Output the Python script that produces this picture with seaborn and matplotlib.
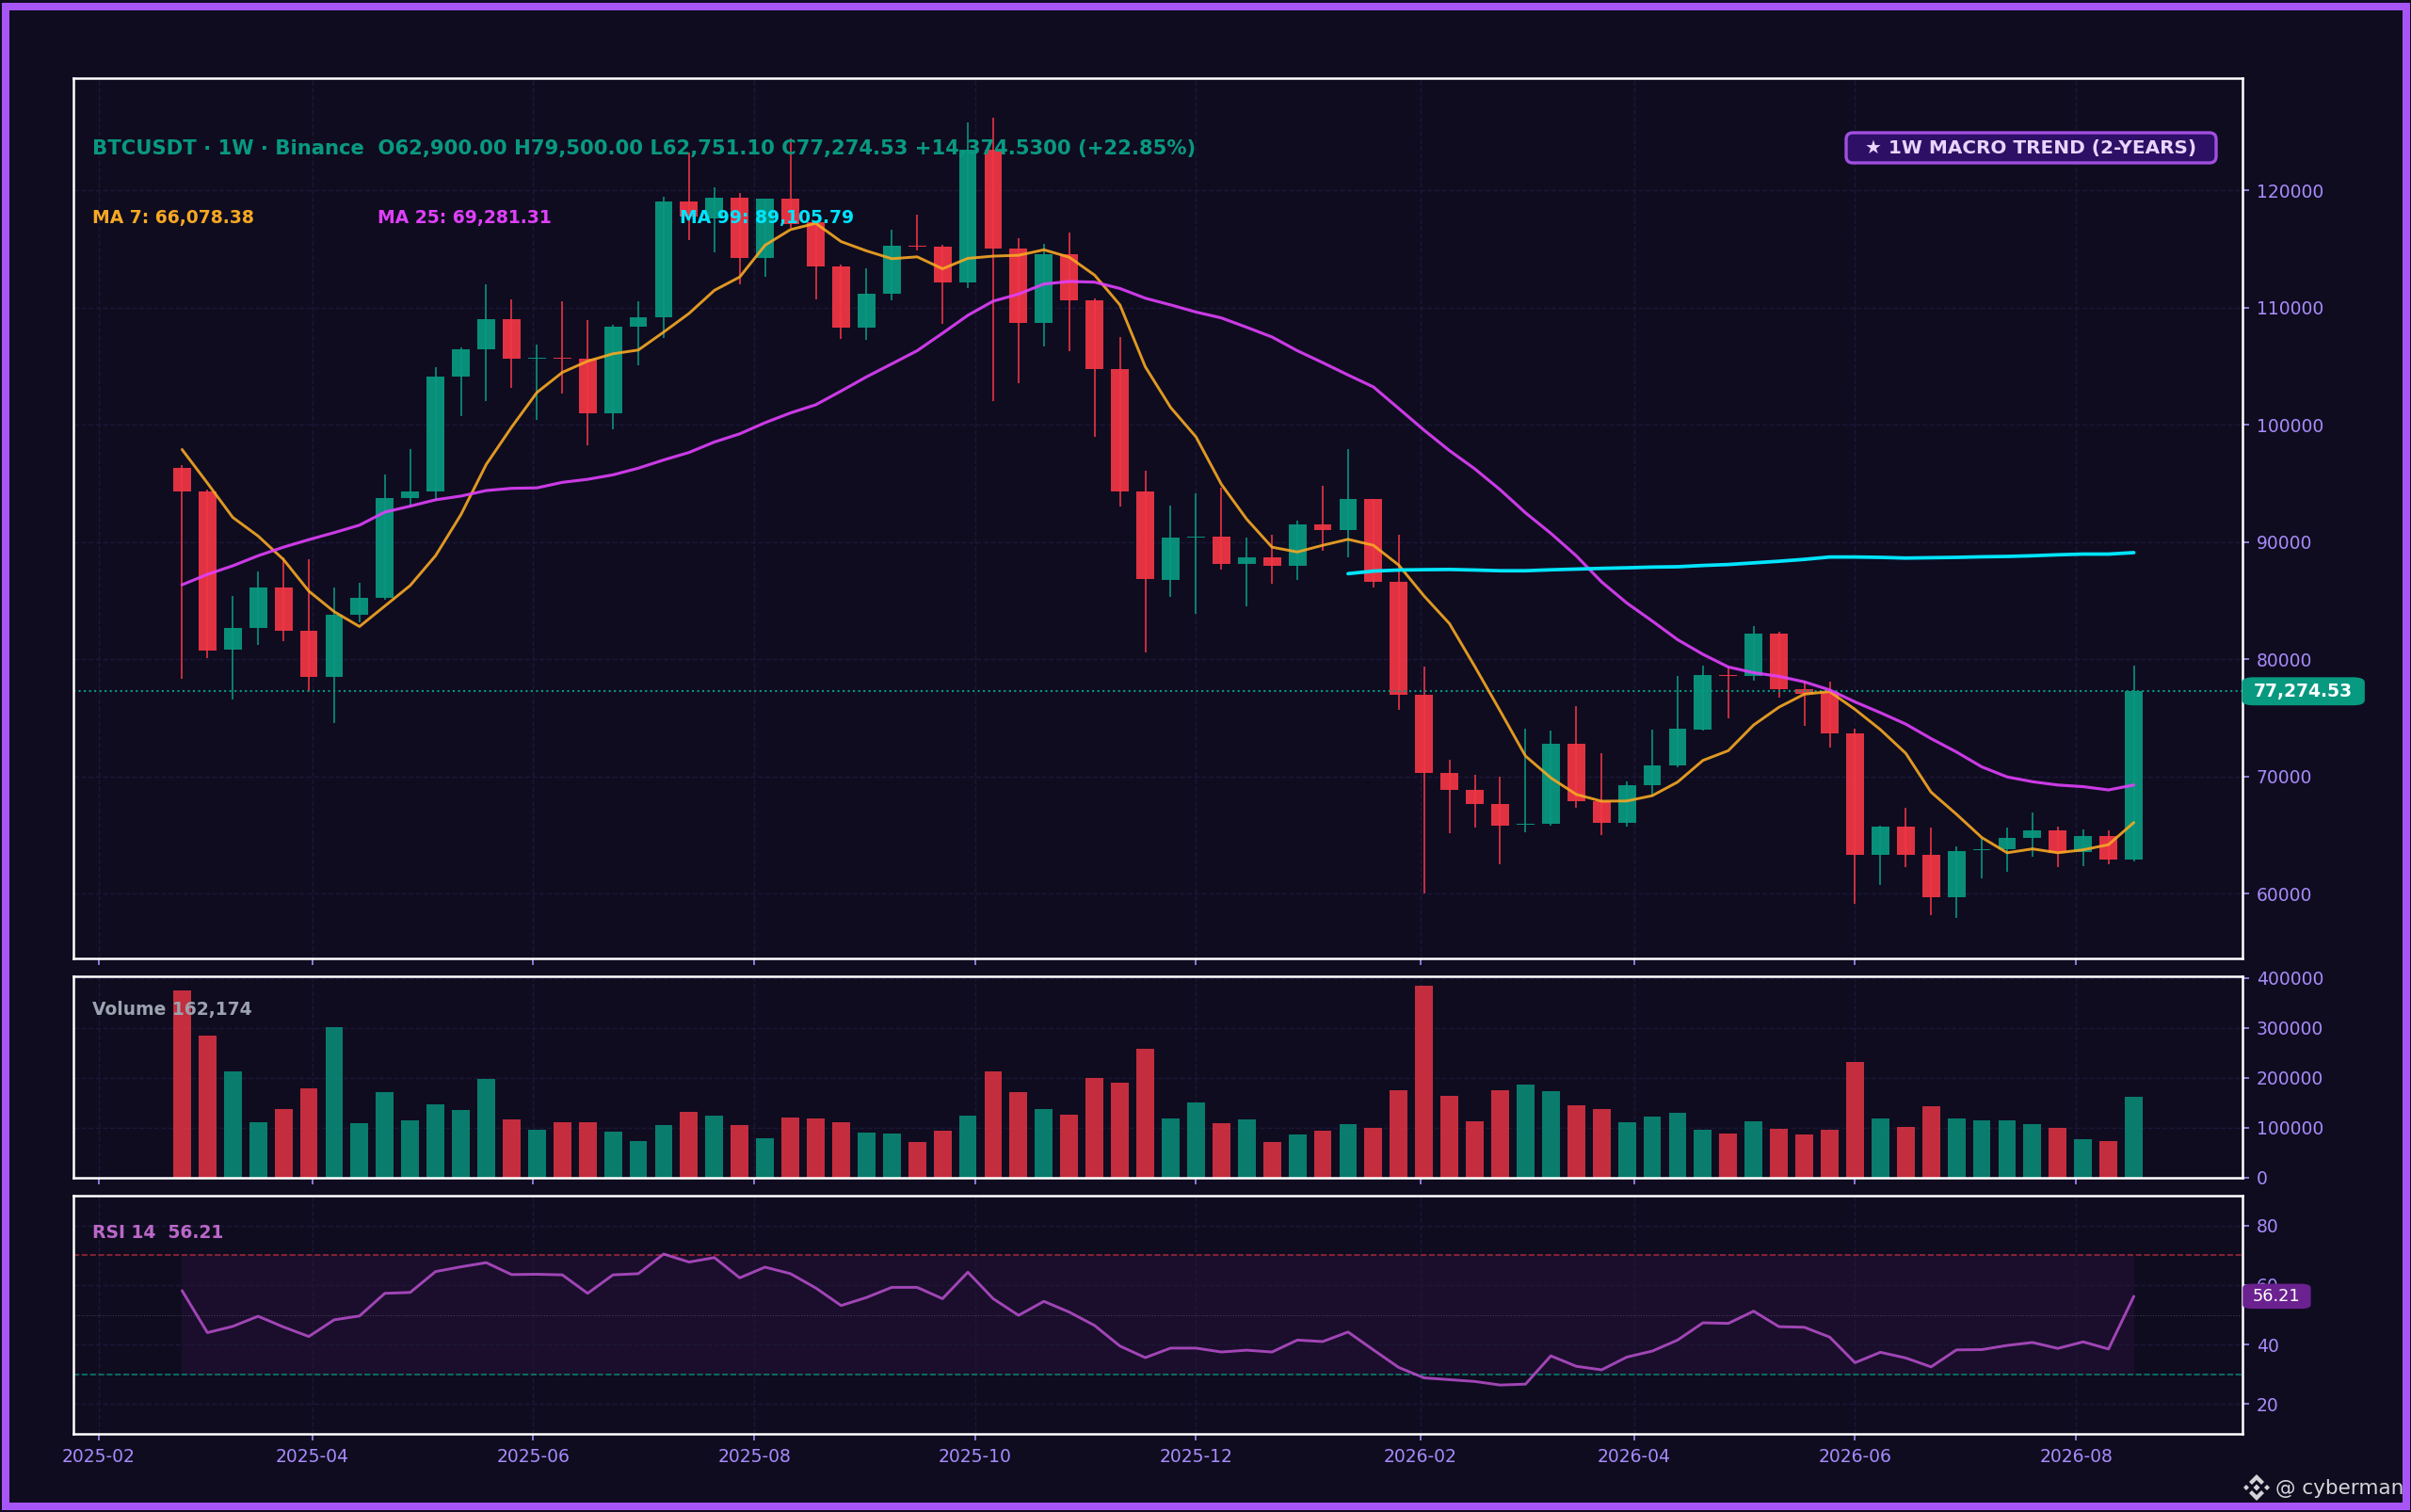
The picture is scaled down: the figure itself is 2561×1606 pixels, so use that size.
import matplotlib
matplotlib.use('Agg')
import matplotlib.pyplot as plt
import matplotlib.dates as mdates
from matplotlib.patches import FancyBboxPatch, Polygon, Rectangle
from matplotlib.transforms import IdentityTransform
import pandas as pd
import seaborn as sns

BG = '#0f0c20'
PANEL = '#0f0c20'
GRID = '#1b1736'
TICK = '#a78bfa'
UP = '#089981'
DOWN = '#f23645'
BORDER = '#a855f7'

sns.set_theme(style='dark', rc={
    'figure.facecolor': BG,
    'axes.facecolor': PANEL,
    'axes.edgecolor': 'white',
    'axes.linewidth': 1.2,
    'grid.color': GRID,
    'grid.linestyle': '--',
    'grid.linewidth': 0.7,
    'xtick.color': TICK,
    'ytick.color': TICK,
})
plt.rcParams['font.family'] = ['DejaVu Sans']

# weekly candles
week_start = '2025-02-24'
n_weeks = 78

opens = [96300, 94300, 80870, 82640, 86100, 82420, 78500, 83780, 85220, 93740,
         94300, 104100, 106450, 109030, 105640, 105730, 105630, 100990, 108360, 109190,
         119080, 117600, 119400, 114250, 119300, 117300, 113510, 108300, 111190, 115310,
         115200, 112180, 123500, 115010, 108710, 114560, 110590, 104770, 94300, 86810,
         90370, 90440, 88170, 88670, 87950, 91550, 91000, 93660, 86650, 77010,
         70330, 68890, 67670, 65880, 65990, 72820, 67920, 66060, 69250, 70940,
         74000, 78700, 78620, 82200, 77420, 77200, 73680, 63360, 65730, 63330,
         59680, 63690, 63800, 64760, 65430, 63600, 64930, 62900]
closes = [94300, 80750, 82640, 86100, 82420, 78510, 83780, 85220, 93740, 94300,
          104100, 106450, 109030, 105630, 105730, 105640, 100990, 108360, 109190, 119080,
          117770, 119400, 114250, 119300, 117100, 113510, 108300, 111190, 115290, 115210,
          112180, 123500, 115010, 108710, 114560, 110590, 104770, 94300, 86840, 90360,
          90460, 88170, 88670, 87950, 91550, 91000, 93660, 86650, 77010, 70330,
          68890, 67670, 65820, 65980, 72820, 67920, 66060, 69250, 70940, 74100,
          78680, 78600, 82200, 77480, 77070, 73680, 63360, 65730, 63360, 59680,
          63650, 63790, 64760, 65430, 63520, 64930, 62940, 77274.53]
highs = [96566, 94470, 85374, 87470, 88740, 88520, 86100, 86520, 95740, 97900,
         104960, 106640, 111990, 110710, 106840, 110560, 108930, 108550, 110560, 119460,
         123210, 120290, 119810, 119300, 124420, 117300, 113670, 113320, 116660, 117930,
         115350, 125790, 126230, 115930, 115450, 116410, 110780, 107500, 96090, 93100,
         94130, 94630, 90360, 90610, 91800, 94790, 97900, 93660, 90610, 79420,
         71440, 70170, 70000, 74100, 73930, 76030, 72000, 69580, 74000, 78600,
         79470, 79280, 82850, 82340, 78150, 78100, 74060, 65820, 67330, 65650,
         64040, 64760, 65650, 66950, 65730, 65480, 65430, 79500]
lows = [78380, 80090, 76540, 81210, 81590, 77330, 74570, 83120, 85100, 92970,
        93600, 100760, 102070, 103120, 100440, 102700, 98280, 99650, 105120, 107440,
        115800, 114750, 111960, 112620, 116820, 110710, 107340, 107250, 110620, 114900,
        108650, 111640, 102070, 103590, 106710, 106330, 98980, 93040, 80580, 85290,
        83880, 87620, 84490, 86430, 86810, 89300, 88700, 86100, 75700, 60000,
        65180, 65650, 62550, 65270, 65820, 67370, 65040, 65730, 68290, 70830,
        73950, 75000, 78200, 76740, 74350, 72470, 59150, 60750, 62280, 58220,
        57900, 61330, 61900, 63180, 62280, 62360, 62500, 62751.10]
volumes = [374600, 284500, 212700, 111300, 137300, 178900, 301400, 109200, 171100, 114800,
           147200, 135900, 197900, 116900, 95800, 111300, 111300, 92300, 73200, 105600,
           131700, 123900, 105600, 78900, 120400, 118300, 111300, 90100, 88700, 71800,
           94400, 123900, 212700, 171100, 137300, 126100, 199300, 190100, 257700, 118300,
           150700, 109200, 116900, 71800, 86600, 94400, 107000, 99300, 175400, 384500,
           164100, 112700, 175400, 186600, 173200, 145100, 137300, 111300, 122500, 130300,
           95800, 88700, 112700, 97900, 86600, 95800, 231700, 118300, 101400, 143000,
           118300, 114800, 114800, 107000, 99300, 77500, 73200, 162174]
ma7 = [97900, 95040, 92110, 90520, 88520, 85820, 84070, 82800, 84550, 86300,
       88840, 92340, 96630, 99810, 102770, 104480, 105440, 106070, 106390, 107920,
       109510, 111480, 112620, 115330, 116660, 117200, 115640, 114850, 114180, 114340,
       113320, 114210, 114400, 114470, 114940, 114310, 112780, 110240, 104960, 101490,
       98980, 94940, 91960, 89570, 89160, 89730, 90240, 89730, 88040, 85400,
       83050, 79390, 75600, 71750, 69890, 68480, 67900, 67920, 68370, 69530,
       71380, 72210, 74400, 75920, 77030, 77250, 75730, 74010, 71990, 68670,
       66790, 64800, 63500, 63830, 63500, 63750, 64190, 66078.38]
ma25 = [86360, 87250, 87980, 88840, 89570, 90210, 90810, 91450, 92560, 93070,
        93610, 93930, 94400, 94590, 94630, 95100, 95360, 95740, 96310, 97010,
        97650, 98540, 99240, 100190, 101020, 101720, 102890, 104100, 105210, 106330,
        107820, 109350, 110560, 111160, 112020, 112240, 112180, 111640, 110810, 110240,
        109630, 109130, 108330, 107500, 106330, 105310, 104260, 103240, 101400, 99550,
        97810, 96250, 94470, 92500, 90750, 88840, 86610, 84800, 83270, 81680,
        80430, 79350, 78860, 78550, 78080, 77390, 76370, 75450, 74480, 73240,
        72100, 70830, 69970, 69560, 69280, 69140, 68860, 69281.31]
# MA 99 only starts at week 46
ma99_first = 46
ma99 = [87310, 87530, 87620, 87650, 87670, 87620, 87560, 87560, 87640, 87700,
        87760, 87810, 87870, 87900, 88010, 88090, 88230, 88370, 88530, 88730,
        88730, 88700, 88640, 88670, 88700, 88750, 88780, 88840, 88920, 88980,
        88980, 89105.79]
rsi = [58.1, 44.0, 46.1, 49.5, 45.9, 42.7, 48.3, 49.6, 57.2, 57.5,
       64.5, 66.1, 67.5, 63.5, 63.6, 63.4, 57.2, 63.4, 63.8, 70.4,
       67.7, 69.2, 62.4, 66.0, 63.8, 59.0, 53.1, 55.8, 59.2, 59.2,
       55.4, 64.3, 55.4, 49.8, 54.5, 50.9, 46.4, 39.5, 35.6, 38.8,
       38.8, 37.5, 38.1, 37.5, 41.5, 41.0, 44.2, 38.2, 32.3, 28.8,
       28.2, 27.6, 26.4, 26.7, 36.2, 32.7, 31.5, 35.8, 37.8, 41.5,
       47.3, 47.1, 51.2, 46.0, 45.8, 42.5, 33.9, 37.4, 35.5, 32.5,
       38.2, 38.3, 39.7, 40.7, 38.7, 40.9, 38.5, 56.21]

price_ticks = [60000, 70000, 80000, 90000, 100000, 110000, 120000]
volume_ticks = [0, 100000, 200000, 300000, 400000]
rsi_ticks = [20, 40, 60, 80]

dates = pd.date_range(week_start, periods=n_weeks, freq='7D')
x = mdates.date2num(dates)
is_up = [c >= o for o, c in zip(opens, closes)]
colors = [UP if u else DOWN for u in is_up]
direction = ['up' if u else 'down' for u in is_up]

W, H = 2562, 1606
fig = plt.figure(figsize=(W / 150, H / 150), dpi=150)


def panel(left, top, right, bottom, sharex=None):
    return fig.add_axes([left / W, 1 - bottom / H, (right - left) / W, (bottom - top) / H], sharex=sharex)


ax = panel(78, 83, 2382, 1018)
ax_vol = panel(78, 1037, 2382, 1251, sharex=ax)
ax_rsi = panel(78, 1270, 2382, 1523, sharex=ax)

# candles
ax.vlines(x, lows, highs, colors=colors, linewidth=0.85, alpha=0.9, zorder=0.9)
ax.bar(x, [abs(c - o) for o, c in zip(opens, closes)], bottom=[min(o, c) for o, c in zip(opens, closes)],
       width=4.9, color=colors, alpha=0.93, linewidth=0, zorder=1)
sns.lineplot(x=x, y=ma7, color='#f7a823', linewidth=1.4, alpha=0.9, errorbar=None, ax=ax, zorder=3)
sns.lineplot(x=x, y=ma25, color='#e040fb', linewidth=1.5, alpha=0.9, errorbar=None, ax=ax, zorder=3)
sns.lineplot(x=x[ma99_first:], y=ma99, color='#00e5ff', linewidth=1.8, errorbar=None, ax=ax, zorder=3)
ax.axhline(closes[-1], color=UP, linestyle=':', linewidth=1.0, zorder=2)
ax.set_ylim(54486, 129584)
ax.set_yticks(price_ticks)

ax.text(0.0085, 0.92, 'BTCUSDT · 1W · Binance  O62,900.00 H79,500.00 L62,751.10 C77,274.53 +14,374.5300 (+22.85%)',
        transform=ax.transAxes, color=UP, fontsize=10.15, fontweight='bold', va='center', zorder=2)
ax.text(0.0085, 0.841, 'MA 7: 66,078.38', transform=ax.transAxes, color='#f7a823', fontsize=9, fontweight='bold', va='center')
ax.text(0.14, 0.841, 'MA 25: 69,281.31', transform=ax.transAxes, color='#e040fb', fontsize=9, fontweight='bold', va='center')
ax.text(0.2795, 0.841, 'MA 99: 89,105.79', transform=ax.transAxes, color='#00e5ff', fontsize=9, fontweight='bold', va='center')
ax.annotate(f'{closes[-1]:,.2f}', xy=(1, closes[-1]), xycoords=('axes fraction', 'data'), xytext=(5.8, 0),
            textcoords='offset points', color='white', fontsize=9, fontweight='bold', va='center', ha='left',
            bbox=dict(boxstyle='round,pad=0.62', mutation_aspect=0.38, facecolor=UP, edgecolor=UP), zorder=6)

# macro trend badge, box placed in pixels
fig.add_artist(FancyBboxPatch((1961, H - 173), 393, 32, boxstyle='round,pad=0,rounding_size=7',
                              transform=IdentityTransform(), facecolor='#2d1065', edgecolor='#a04fe0', linewidth=1.6))
fig.text(2157.5 / W, 1 - 157 / H, '★ 1W MACRO TREND (2-YEARS)', color='#e9d5ff', fontsize=9.6,
         fontweight='bold', ha='center', va='center')

# volume
sns.barplot(x=x, y=volumes, hue=direction, palette={'up': UP, 'down': DOWN}, orient='x', native_scale=True,
            width=0.7, dodge=False, saturation=1, alpha=0.8, legend=False, errorbar=None, linewidth=0, ax=ax_vol)
ax_vol.set_ylim(0, 403700)
ax_vol.set_yticks(volume_ticks)
ax_vol.text(0.0085, 0.835, 'Volume 162,174', transform=ax_vol.transAxes, color='#9ca3af', fontsize=9,
            fontweight='bold', va='center', zorder=6)

# rsi
ax_rsi.fill_between(x, 30, 70, color='#9c27b0', alpha=0.09, linewidth=0, zorder=0.5)
ax_rsi.axhline(70, color=DOWN, linestyle='--', linewidth=0.8, alpha=0.6)
ax_rsi.axhline(30, color=UP, linestyle='--', linewidth=0.8, alpha=0.8)
ax_rsi.axhline(50, color='#6b7280', linestyle=':', linewidth=0.5, alpha=0.5)
sns.lineplot(x=x, y=rsi, color='#ba4fcf', linewidth=1.4, alpha=0.85, errorbar=None, ax=ax_rsi, zorder=3)
ax_rsi.set_ylim(10, 90)
ax_rsi.set_yticks(rsi_ticks)
ax_rsi.text(0.0085, 0.845, 'RSI 14  56.21', transform=ax_rsi.transAxes, color='#ba68c8', fontsize=9,
            fontweight='bold', va='center')
ax_rsi.annotate(f'{rsi[-1]:.2f}', xy=(1, rsi[-1]), xycoords=('axes fraction', 'data'), xytext=(5.3, 0),
                textcoords='offset points', color='white', fontsize=8.5, va='center', ha='left',
                bbox=dict(boxstyle='round,pad=0.55', mutation_aspect=0.33, facecolor='#6b2190', edgecolor='#6b2190'),
                zorder=6)

for a in (ax, ax_vol, ax_rsi):
    a.grid(True)
    a.yaxis.tick_right()
    a.tick_params(axis='both', labelsize=9, length=3.5, width=0.8, colors=TICK, bottom=True, right=True, left=False)
    a.set_xlabel('')
    a.set_ylabel('')
    for s in a.spines.values():
        s.set_color('white')
        s.set_linewidth(1.2)
        s.set_visible(True)

ax_rsi.xaxis.set_major_locator(mdates.MonthLocator(bymonth=[2, 4, 6, 8, 10, 12]))
ax_rsi.xaxis.set_major_formatter(mdates.DateFormatter('%Y-%m'))
ax_rsi.set_xlim(x[0] - 30, x[-1] + 30)
ax.tick_params(labelbottom=False)
ax_vol.tick_params(labelbottom=False)

# outer frame, a thin dark margin stays outside it
fig.add_artist(Rectangle((6, 6.5), W - 12, H - 13, transform=IdentityTransform(), fill=False,
                         edgecolor=BORDER, linewidth=3.84, joinstyle='miter'))

# watermark, binance style logo + handle
lx, ly = 2397, 1580
logo_shapes = [
    [(0, -14), (8, -6), (5, -3), (0, -8), (-5, -3), (-8, -6)],
    [(0, 14), (8, 6), (5, 3), (0, 8), (-5, 3), (-8, 6)],
    [(-3.5, 0), (0, -3.5), (3.5, 0), (0, 3.5)],
    [(-14, 0), (-11, -3), (-8, 0), (-11, 3)],
    [(14, 0), (11, -3), (8, 0), (11, 3)],
]
for shape in logo_shapes:
    fig.add_artist(Polygon([(lx + p, H - ly - q) for p, q in shape], transform=IdentityTransform(),
                           color='#d4d4d8', linewidth=0))
fig.text(2417 / W, 1 - 1581 / H, '@ cyberman', color='#d4d4d8', fontsize=10.3, va='center', ha='left')

fig.savefig('out.png', dpi=150, facecolor=BG)
